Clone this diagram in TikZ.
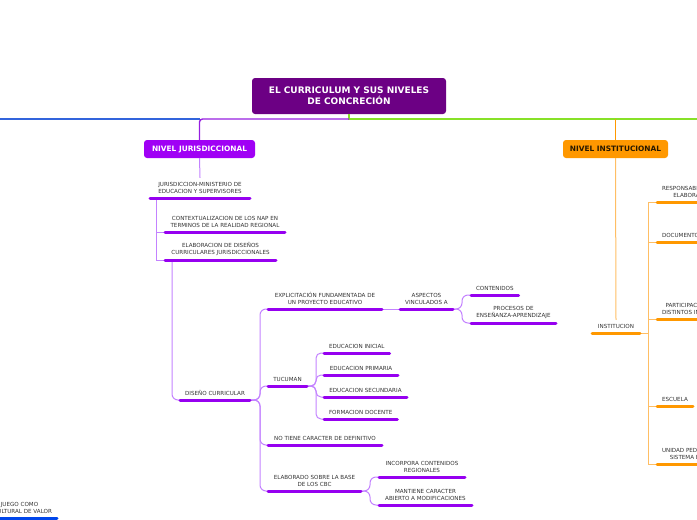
\documentclass[tikz,border=0pt]{standalone}
\usepackage{fontspec}
\setmainfont{DejaVu Sans}
\definecolor{titlebg}{RGB}{108,0,132}
\definecolor{jurbg}{RGB}{160,0,245}
\definecolor{pbar}{RGB}{150,0,240}
\definecolor{pmain}{RGB}{150,30,225}
\definecolor{pline}{RGB}{195,130,255}
\definecolor{obar}{RGB}{255,152,0}
\definecolor{oline}{RGB}{255,190,100}
\definecolor{bline}{RGB}{50,100,220}
\definecolor{bbar}{RGB}{0,70,235}
\definecolor{gline}{RGB}{135,225,40}
\definecolor{idark}{RGB}{40,25,0}
\newcommand\ubar[2]{\draw[#1] (#2.south west) -- (#2.south east);}
\tikzset{
 itm/.style={font=\fontsize{5.6}{7}\selectfont, text=black!80, inner xsep=5pt, inner ysep=4.5pt, outer sep=0pt, align=center, minimum width=#1, anchor=south west},
 itmr/.style={itm=#1, anchor=south east},
 pb/.style={draw=pbar, line width=3pt, line cap=round},
 ob/.style={draw=obar, line width=3pt, line cap=round},
 bb/.style={draw=bbar, line width=3pt, line cap=round},
 pc/.style={draw=pline, line width=1pt},
 oc/.style={draw=oline, line width=1pt},
 mainln/.style={line width=1.4pt},
 box/.style={rounded corners=3pt, outer sep=0pt, inner sep=0pt, align=center, font=\bfseries\fontsize{7.4}{9}\selectfont},
}
\begin{document}
\begin{tikzpicture}[x=1pt,y=-1pt]
\useasboundingbox (0,0) rectangle (697,520);
\clip (0,0) rectangle (697,520);

% central boxes
\node[box, fill=titlebg, text=white, minimum width=194pt, minimum height=36pt, font=\bfseries\fontsize{9}{11}\selectfont] (title) at (349,96) {EL CURRICULUM Y SUS NIVELES\\DE CONCRECIÓN};
\node[box, fill=jurbg, text=white, minimum width=111pt, minimum height=18pt] (jur) at (199.5,149) {NIVEL JURISDICCIONAL};
\node[box, fill=obar, text=idark, minimum width=105pt, minimum height=18pt] (inst) at (615.5,149) {NIVEL INSTITUCIONAL};

% main lines
\coordinate (hub) at (349,119);
\coordinate (lend) at (0,119);
\coordinate (rend) at (697,119);
\draw[draw=gline, mainln] (title.south) -- (hub) -- (rend);
\draw[draw=bline, mainln] (lend) -- (jur.north |- hub);
\draw[draw=pmain, mainln, rounded corners=3pt] (hub) -| (jur.north);
\draw[draw=obar, mainln, rounded corners=2pt] (inst.north |- hub) -- (inst.north);

% left tree nodes
\node[itm=100pt] (jm) at (150,198) {JURISDICCION-MINISTERIO DE\\EDUCACION Y SUPERVISORES};
\node[itm=120pt] (ctx) at (165,232) {CONTEXTUALIZACION DE LOS NAP EN\\TERMINOS DE LA REALIDAD REGIONAL};
\node[itm=111pt] (ela) at (165,260) {ELABORACION DE DISEÑOS\\CURRICULARES JURISDICCIONALES};
\node[itm=70pt] (dis) at (180,400) {DISEÑO CURRICULAR};
\node[itm=114pt] (exp) at (268,309) {EXPLICITACIÓN FUNDAMENTADA DE\\UN PROYECTO EDUCATIVO};
\node[itm=39pt] (tuc) at (268,386) {TUCUMAN};
\node[itm=114pt] (ntc) at (268,445) {NO TIENE CARACTER DE DEFINITIVO};
\node[itm=93pt] (elb) at (268,491) {ELABORADO SOBRE LA BASE\\DE LOS CBC};
\node[itm=64pt] (ini) at (324,353) {EDUCACION INICIAL};
\node[itm=74pt] (pri) at (324,375) {EDUCACION PRIMARIA};
\node[itm=83pt] (sec) at (324,397) {EDUCACION SECUNDARIA};
\node[itm=73pt] (fdo) at (324,419) {FORMACION DOCENTE};
\node[itm=53pt] (asp) at (400,309) {ASPECTOS\\VINCULADOS A};
\node[itm=47pt] (con) at (471,295) {CONTENIDOS};
\node[itm=85pt] (pro) at (471,323) {PROCESOS DE\\ENSEÑANZA-APRENDIZAJE};
\node[itm=86pt] (inc) at (379,477) {INCORPORA CONTENIDOS\\REGIONALES};
\node[itm=93pt] (man) at (379,505) {MANTIENE CARACTER\\ABIERTO A MODIFICACIONES};

% right tree nodes
\node[itm=48pt] (ins) at (592,333) {INSTITUCION};
\node[itm=60pt] (res) at (657,202) {RESPONSABLES DE LA\\ELABORACION};
\node[itm=60pt] (doc) at (657,242) {DOCUMENTOS INSTITUCIONALES};
\node[itm=60pt] (par) at (657,319) {PARTICIPACION DE LOS\\DISTINTOS INTEGRANTES};
\node[itm=36pt] (esc) at (657,406) {ESCUELA};
\node[itm=60pt] (uni) at (657,464) {UNIDAD PEDAGOGICA DEL\\SISTEMA EDUCATIVO};

% bottom-left node
\node[itmr=60pt] (jue) at (57,518) {EL JUEGO COMO\\BIEN CULTURAL DE VALOR};

% connectors left
\draw[pc] (jur.south) -- (jm.north);
\draw[pc] ([xshift=6pt]jm.south west) |- (ctx.south west);
\draw[pc] ([xshift=6pt]jm.south west) |- (ela.south west);
\draw[pc, rounded corners=6pt] ([xshift=7pt]ela.south west) |- (dis.south west);
\foreach \c in {exp,tuc,ntc,elb}
  \draw[pc, rounded corners=6pt] (dis.south east) -- ++(10,0) |- (\c.south west);
\foreach \c in {ini,pri,sec,fdo}
  \draw[pc, rounded corners=5pt] (tuc.south east) -- ++(9,0) |- (\c.south west);
\draw[pc] (exp.south east) -- (asp.south west);
\foreach \c in {con,pro}
  \draw[pc, rounded corners=6pt] (asp.south east) -- ++(9,0) |- (\c.south west);
\foreach \c in {inc,man}
  \draw[pc, rounded corners=6pt] (elb.south east) -- ++(9,0) |- (\c.south west);

% connectors right
\draw[oc] (inst.south) -- (ins.north);
\foreach \c in {res,doc,par,esc,uni}
  \draw[oc] (ins.south east) -- ++(8,0) |- (\c.south west);

% bars
\foreach \n in {jm,ctx,ela,dis,exp,tuc,ntc,elb,ini,pri,sec,fdo,asp,con,pro,inc,man}
  {\ubar{pb}{\n}}
\foreach \n in {ins,res,doc,par,esc,uni}
  {\ubar{ob}{\n}}
\ubar{bb}{jue}
\end{tikzpicture}
\end{document}
